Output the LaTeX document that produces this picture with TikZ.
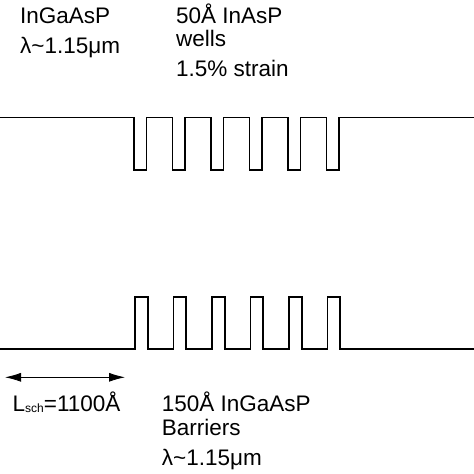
\documentclass[tikz,border=0pt]{standalone}
\usepackage{fontspec}
\setmainfont{Liberation Sans}
\usetikzlibrary{arrows.meta}

\tikzset{
    label/.style={anchor=base west, inner sep=0pt, font=\fontsize{22.5}{26}\selectfont},
    profile/.style={line width=1.6pt, line join=miter},
}

\begin{document}
\begin{tikzpicture}[x=1pt, y=-1pt]
        \useasboundingbox (0,0) rectangle (474,474);
        % labels above
        \node[label] (clad) at (20,23.3) {InGaAsP};
        \node[label] (cladlam) at (20,53.3) {λ\textasciitilde 1.15μm};
        \node[label] (well) at (176,23.3) {50Å InAsP};
        \node[label] (wellb) at (176,46.7) {wells};
        \node[label] (strain) at (176,76) {1.5\% strain};
        % conduction band profile
        \draw[profile] (0,117.5) -- (134,117.5)
            \foreach \x in {134,172.5,211,249.5,288,326.5} {
                -- (\x,117.5) -- (\x,170) -- ++(12.5,0) -- ++(0,-52.5)}
            -- (474,117.5);
        % valence band profile
        \draw[profile] (0,349) -- (135,349)
            \foreach \x in {135,173.5,212,250.5,289,327.5} {
                -- (\x,349) -- (\x,296.7) -- ++(12.7,0) -- ++(0,52.3)}
            -- (474,349);
        % sch width
        \coordinate (schl) at (5,377.3);
        \coordinate (schr) at (125,377.3);
        \draw[line width=0.8pt, {Latex[length=16pt,width=9pt]}-{Latex[length=16pt,width=9pt]}] (schl) -- (schr);
        \node[label] (sch) at (12.5,411.7) {L\raisebox{-1pt}{\fontsize{12}{12}\selectfont sch}=1100Å};
        % labels below
        \node[label] (barr) at (161.7,411.7) {150Å InGaAsP};
        \node[label] (barrb) at (161.7,435) {Barriers};
        \node[label] (barrlam) at (161.7,465) {λ\textasciitilde 1.15μm};
    \end{tikzpicture}
\end{document}
